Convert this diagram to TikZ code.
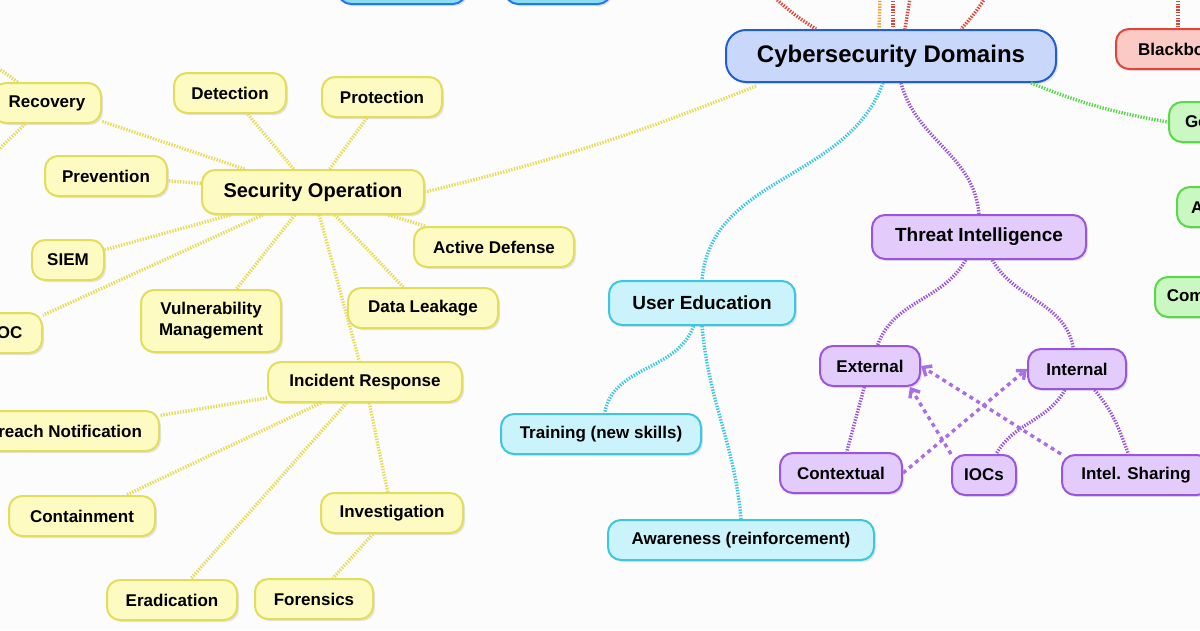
\documentclass[tikz,border=0pt]{standalone}
\usepackage{fontspec}
\setmainfont{Liberation Sans}
\usetikzlibrary{shadows,arrows.meta}
\definecolor{yf}{HTML}{FDFBC2}\definecolor{yd}{HTML}{E3DD5C}\definecolor{yl}{HTML}{E6DC55}
\definecolor{cf}{HTML}{CBF3FB}\definecolor{cd}{HTML}{3CC6E2}
\definecolor{pf}{HTML}{E3CCFB}\definecolor{pd}{HTML}{9A55E0}
\definecolor{bf}{HTML}{C9D7FB}\definecolor{bd}{HTML}{1F5FD1}
\definecolor{rf}{HTML}{FBCAC4}\definecolor{rd}{HTML}{E0453A}
\definecolor{gf}{HTML}{CBF7C2}\definecolor{gd}{HTML}{5AD84A}
\definecolor{of}{HTML}{F0A040}
\tikzset{
 box/.style={rounded corners=13pt,line width=2pt,minimum height=40pt,inner xsep=10pt,align=center,
   font=\bfseries\fontsize{17}{19}\selectfont,drop shadow={opacity=0.2,shadow xshift=2pt,shadow yshift=-2pt}},
 ybox/.style={box,fill=yf,draw=yd},
 cbox/.style={box,fill=cf,draw=cd},
 pbox/.style={box,fill=pf,draw=pd},
 rbox/.style={box,fill=rf,draw=rd},
 gbox/.style={box,fill=gf,draw=gd},
 bbox/.style={box,fill=cd!60,draw=cd!60!blue},
 ln/.style={line width=3.4pt,dash pattern=on 1.4pt off 1.4pt},
 ye/.style={ln,draw=yl},
 ce/.style={ln,draw=cd},
 pe/.style={ln,draw=pd},
 re/.style={ln,draw=rd},
 ge/.style={ln,draw=gd},
 oe/.style={ln,draw=of},
 pa/.style={line width=3.4pt,draw=pd!85,dash pattern=on 4pt off 4pt,-{Straight Barb[length=7pt,width=12pt]}},
}
\begin{document}
\begin{tikzpicture}[x=1pt,y=-1pt]
\fill[white!98!gray] (0,0) rectangle (1200,630);
\useasboundingbox (0,0) rectangle (1200,630);
\coordinate (t1) at (775,-2);\coordinate (t2) at (880,-2);\coordinate (t3) at (893,-2);
\coordinate (t4) at (910,-2);\coordinate (t5) at (985,-2);\coordinate (t6) at (1178,-2);
\coordinate (r1) at (-2,68);\coordinate (r2) at (-2,150);
% nodes
\node[box,fill=bf,draw=bd,minimum width=330pt,minimum height=52pt,rounded corners=20pt,font=\bfseries\fontsize{24}{26}\selectfont] (cyb) at (891,56) {Cybersecurity Domains};
\node[rbox,anchor=west,minimum width=120pt,inner xsep=14pt] (bb) at (1115,49) {Blackbox};
\node[gbox,anchor=west,minimum width=120pt,inner xsep=16pt] (gv) at (1168,122) {Governance};
\node[gbox,anchor=west,minimum width=120pt,inner xsep=14pt] (ar) at (1176,207) {Architecture};
\node[gbox,anchor=west,minimum width=120pt] (cp) at (1154,297) {Compliance};
\node[bbox,minimum width=128pt] (b1) at (402,-16) {};
\node[bbox,minimum width=106pt] (b2) at (558,-16) {};
% yellow
\node[ybox,minimum width=222pt,minimum height=44pt,font=\bfseries\fontsize{20}{22}\selectfont] (so) at (313,192) {Security Operation};
\node[ybox,minimum width=108pt] (rec) at (47,103) {Recovery};
\node[ybox,minimum width=112pt] (det) at (230,93) {Detection};
\node[ybox,minimum width=120pt] (pro) at (382,97) {Protection};
\node[ybox,minimum width=122pt] (pre) at (106,176) {Prevention};
\node[ybox,minimum width=72pt] (siem) at (68,260) {SIEM};
\node[ybox,minimum width=76pt] (soc) at (4,333) {SOC};
\node[ybox,minimum width=140pt,minimum height=62pt,font=\bfseries\fontsize{17}{21}\selectfont] (vm) at (211,321) {Vulnerability\\Management};
\node[ybox,minimum width=160pt] (ad) at (494,247) {Active Defense};
\node[ybox,minimum width=150pt] (dl) at (423,308) {Data Leakage};
\node[ybox,minimum width=194pt] (ir) at (365,382) {Incident Response};
\node[ybox,anchor=east,minimum width=190pt] (bn) at (160,431) {Breach Notification};
\node[ybox,minimum width=146pt] (con) at (82,516) {Containment};
\node[ybox,minimum width=142pt] (inv) at (392,513) {Investigation};
\node[ybox,minimum width=130pt] (era) at (172,600) {Eradication};
\node[ybox,minimum width=118pt] (for) at (314,599) {Forensics};
% cyan
\node[cbox,minimum width=186pt,minimum height=44pt,font=\bfseries\fontsize{19}{21}\selectfont] (ue) at (702,303) {User Education};
\node[cbox,minimum width=200pt] (tr) at (601,434) {Training (new skills)};
\node[cbox,minimum width=266pt] (aw) at (741,540) {Awareness (reinforcement)};
% purple
\node[pbox,minimum width=214pt,minimum height=44pt,font=\bfseries\fontsize{19}{21}\selectfont] (ti) at (979,237) {Threat Intelligence};
\node[pbox,minimum width=100pt] (ext) at (870,366) {External};
\node[pbox,minimum width=98pt] (int) at (1077,369) {Internal};
\node[pbox,minimum width=122pt] (ctx) at (841,473) {Contextual};
\node[pbox,minimum width=64pt,inner xsep=6pt] (ioc) at (984,475) {IOCs};
\node[pbox,minimum width=148pt] (is) at (1136,475) {Intel. Sharing};
% edges
\draw[re] (t1) to[bend right=5] ([xshift=-75pt]cyb.north);
\draw[oe] (t2) -- ([xshift=-12pt]cyb.north);
\draw[re] (t3) -- ([xshift=2pt]cyb.north);
\draw[re] (t4) -- ([xshift=14pt]cyb.north);
\draw[re] (t5) to[bend left=5] ([xshift=70pt]cyb.north);
\draw[re] (t6) -- ([xshift=63pt]bb.north west);
\draw[ye] ([xshift=-135pt,yshift=-3pt]cyb.south) to[bend left=4] (so.east);
\draw[ge] ([xshift=140pt]cyb.south) to[bend right=6] (gv.west);
\draw[ce] ([xshift=-8pt]cyb.south) to[out=-110,in=85] (ue.north);
\draw[pe] ([xshift=10pt]cyb.south) to[out=-75,in=95] (ti.north);
\draw[ye] (rec) -- (r1); \draw[ye] (rec) -- (r2);
\foreach \n in {det,pro,rec,pre,siem,soc,vm,ad,dl,ir} \draw[ye] (so) -- (\n);
\foreach \n in {bn,con,era,inv} \draw[ye] (ir) -- (\n);
\draw[ye] (inv) -- (for);
\draw[ce] (ue) to[out=-110,in=80] (tr);
\draw[ce] (ue.south) to[out=-85,in=95] (aw.north);
\draw[pe] (ti) to[out=-120,in=70] (ext);
\draw[pe] (ti) to[out=-60,in=100] (int);
\draw[pe] (ext) -- (ctx);
\draw[pe] (int) to[out=-120,in=60] (ioc);
\draw[pe] (int) to[out=-50,in=110] (is);
\draw[pa] (ctx.east) -- (int.west);
\draw[pa] (ioc.north west) -- ([xshift=40pt]ext.south);
\draw[pa] (is.north west) -- (ext.east);
\end{tikzpicture}
\end{document}
